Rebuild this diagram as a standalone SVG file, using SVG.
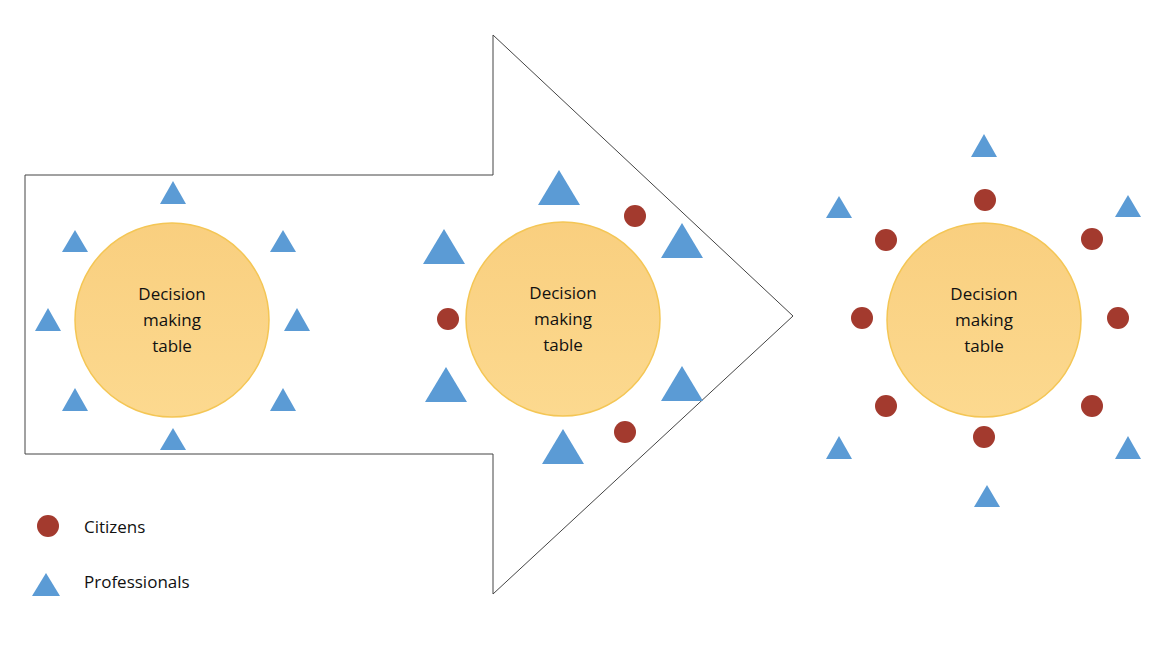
<svg xmlns="http://www.w3.org/2000/svg" width="1168" height="657" viewBox="0 0 1168 657">
<style>
.t{fill:#5b9bd5}
.d{fill:#a33a2e}
.c{fill:url(#g);stroke:#f4c655;stroke-width:1.5}
.lb{font-family:"Open Sans","Liberation Sans",sans-serif;font-size:17px;fill:#111;text-anchor:middle}
.lg{font-family:"Open Sans","Liberation Sans",sans-serif;font-size:17px;fill:#111}
</style>
<defs>
<linearGradient id="g" x1="0" y1="0" x2="0" y2="1"><stop offset="0" stop-color="#f9cf7f"/><stop offset="1" stop-color="#fcd98f"/></linearGradient>
<symbol id="ts" viewBox="0 0 26 23" overflow="visible"><polygon points="13,0 26,23 0,23"/></symbol>
</defs>
<rect width="1168" height="657" fill="#fff"/>
<g id="arrow"><polygon points="25,175 493,175 493,35 793,316 493,594 493,454 25,454" fill="none" stroke="#444" stroke-width="1"/></g>
<g id="connectors"/>
<g id="node-left">
<circle class="c" cx="172" cy="320" r="97"/>
<text class="lb" x="172" y="300">Decision</text><text class="lb" x="172" y="326">making</text><text class="lb" x="172" y="352">table</text>
<g class="t">
<polygon points="173,181 186,204 160,204"/><polygon points="75,230 88,252 62,252"/><polygon points="283,230 296,252 270,252"/>
<polygon points="48,308 61,331 35,331"/><polygon points="297,308 310,331 284,331"/>
<polygon points="75,388 88,411 62,411"/><polygon points="283,388 296,411 270,411"/><polygon points="173,428 186,450 160,450"/>
</g>
</g>
<g id="node-middle">
<circle class="c" cx="563" cy="319" r="97"/>
<text class="lb" x="563" y="299">Decision</text><text class="lb" x="563" y="325">making</text><text class="lb" x="563" y="351">table</text>
<g class="t">
<polygon points="559,170 580,205 538,205"/><polygon points="444,229 465,264 423,264"/><polygon points="682,223 703,258 661,258"/>
<polygon points="446,367 467,402 425,402"/><polygon points="682,366 703,401 661,401"/><polygon points="563,429 584,464 542,464"/>
</g>
<g class="d"><circle cx="635" cy="216" r="11"/><circle cx="448" cy="319" r="11"/><circle cx="625" cy="432" r="11"/></g>
</g>
<g id="node-right">
<circle class="c" cx="984" cy="320" r="97"/>
<text class="lb" x="984" y="300">Decision</text><text class="lb" x="984" y="326">making</text><text class="lb" x="984" y="352">table</text>
<g class="t">
<polygon points="984,134 997,157 971,157"/><polygon points="839,196 852,218 826,218"/><polygon points="1128,195 1141,217 1115,217"/>
<polygon points="839,436 852,459 826,459"/><polygon points="1128,436 1141,459 1115,459"/><polygon points="987,485 1000,507 974,507"/>
</g>
<g class="d">
<circle cx="985" cy="200" r="11"/><circle cx="886" cy="240" r="11"/><circle cx="1092" cy="239" r="11"/>
<circle cx="862" cy="318" r="11"/><circle cx="1118" cy="318" r="11"/><circle cx="886" cy="406" r="11"/>
<circle cx="1092" cy="406" r="11"/><circle cx="984" cy="437" r="11"/>
</g>
</g>
<g id="legend">
<circle class="d" cx="48" cy="526" r="11"/><text class="lg" x="84" y="533">Citizens</text>
<polygon class="t" points="46,573 60,596 32,596"/><text class="lg" x="84" y="588">Professionals</text>
</g>
</svg>
